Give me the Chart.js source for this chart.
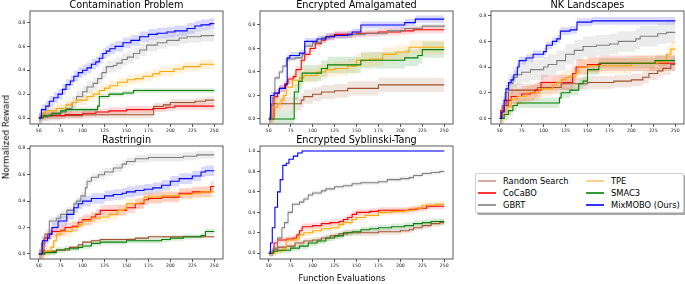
<!DOCTYPE html>
<html>
<head>
<meta charset="utf-8">
<script src="https://cdn.jsdelivr.net/npm/chart.js@4.4.1/dist/chart.umd.min.js"></script>
<style>
  body { margin: 0; background: #fff; }
  #fig { position: relative; width: 685px; height: 284px; overflow: hidden; font-family: "DejaVu Sans", sans-serif; color: #000; }
  #fig canvas { position: absolute; }
  .title { position: absolute; font-size: 9.7px; line-height: 9.7px; white-space: nowrap; transform: translateX(-50%); }
  .axlabel { position: absolute; font-size: 8.4px; line-height: 8.4px; white-space: nowrap; }
  #legend { position: absolute; left: 475px; top: 173px; width: 207px; height: 38px; border: 1px solid #d0d0d0; border-radius: 2px; background: #fff; box-shadow: 2px 2px 0 rgba(0,0,0,0.35); }
  .item { position: absolute; font-size: 8.3px; line-height: 8.3px; white-space: nowrap; padding-left: 25px; }
  .item svg { position: absolute; left: 0; top: 2px; }
</style>
</head>
<body>
<div id="fig">
  <div id="legend"></div>
</div>
<script>
const methods = ["Random Search", "CoCaBO", "GBRT", "TPE", "SMAC3", "MixMOBO (Ours)"];
const lineColors = ["#a0522d", "#ff0000", "#808080", "#ffa500", "#008000", "#0000ff"];
const legendColors = ["#c9978a", "#ff0000", "#808080", "#ffc66e", "#008000", "#0000ff"];
const titles = ["Contamination Problem", "Encrypted Amalgamated", "NK Landscapes", "Rastringin", "Encrypted Syblinski-Tang"];
const xTicks = [50, 75, 100, 125, 150, 175, 200, 225, 250];
const yTicks = [0, 0.2, 0.4, 0.6, 0.8];
const yTicksSyb = [0, 0.2, 0.4, 0.6, 0.8, 1.0];

// Contamination Problem: [evaluation, reward] change points
const contRandom = [[50,0],[52,0.01],[60,0.02],[100,0.028],[181,0.097],[192,0.11],[200,0.13],[228,0.14],[240,0.15],[250,0.15]];
const contCocabo = [[50,0],[53,0.02],[80,0.03],[100,0.04],[115,0.05],[130,0.06],[150,0.07],[180,0.08],[195,0.09],[205,0.1],[250,0.1]];
const contGbrt = [[50,0],[55,0.02],[62,0.03],[75,0.05],[81,0.08],[88,0.13],[93,0.18],[100,0.22],[105,0.26],[112,0.29],[117,0.33],[122,0.38],[127,0.43],[135,0.44],[139,0.46],[145,0.49],[151,0.51],[158,0.54],[165,0.57],[173,0.61],[185,0.63],[196,0.65],[210,0.67],[219,0.68],[235,0.69],[250,0.69]];
const contTpe = [[50,0],[54,0.04],[58,0.06],[70,0.08],[81,0.11],[88,0.13],[93,0.15],[105,0.18],[112,0.2],[119,0.23],[125,0.25],[131,0.27],[140,0.3],[151,0.32],[160,0.33],[169,0.35],[180,0.37],[188,0.39],[204,0.41],[215,0.43],[234,0.45],[250,0.45]];
const contSmac = [[50,0],[55,0.02],[65,0.04],[75,0.06],[81,0.07],[117,0.1],[119,0.18],[130,0.2],[146,0.21],[158,0.23],[250,0.23]];
const contMix = [[50,0],[53,0.07],[58,0.1],[62,0.14],[67,0.17],[72,0.2],[77,0.24],[81,0.28],[86,0.31],[90,0.35],[95,0.38],[100,0.4],[105,0.42],[110,0.45],[115,0.47],[119,0.5],[123,0.54],[127,0.56],[131,0.58],[137,0.6],[146,0.63],[155,0.65],[165,0.68],[175,0.7],[185,0.71],[196,0.72],[205,0.73],[219,0.75],[228,0.77],[235,0.78],[245,0.79],[250,0.79]];
const contBand = [0.03, 0.03, 0.05, 0.04, 0.02, 0.045];

// Encrypted Amalgamated
const amalRandom = [[50,0],[53,0.13],[87,0.16],[90,0.19],[100,0.21],[110,0.23],[125,0.24],[140,0.26],[175,0.29],[250,0.29]];
const amalCocabo = [[50,0],[56,0.19],[60,0.22],[62,0.26],[68,0.3],[72,0.34],[78,0.36],[81,0.42],[87,0.5],[91,0.55],[97,0.6],[103,0.64],[110,0.67],[115,0.7],[125,0.72],[150,0.73],[175,0.74],[200,0.75],[215,0.76],[250,0.76]];
const amalGbrt = [[50,0],[54,0.18],[57,0.35],[62,0.4],[66,0.45],[70,0.51],[80,0.52],[88,0.55],[91,0.62],[100,0.65],[110,0.69],[120,0.71],[145,0.72],[160,0.73],[185,0.75],[205,0.77],[225,0.79],[250,0.8]];
const amalTpe = [[50,0],[54,0.1],[60,0.13],[64,0.16],[67,0.2],[70,0.27],[77,0.33],[85,0.35],[90,0.37],[105,0.4],[115,0.42],[125,0.43],[140,0.45],[150,0.5],[165,0.51],[180,0.55],[195,0.57],[210,0.61],[250,0.61]];
const amalSmac = [[50,0],[79,0.23],[84,0.32],[88,0.39],[110,0.43],[117,0.46],[155,0.5],[205,0.52],[220,0.54],[225,0.59],[250,0.59]];
const amalMix = [[50,0],[52,0.2],[56,0.22],[62,0.26],[69,0.29],[71,0.52],[74,0.54],[85,0.56],[91,0.66],[105,0.68],[115,0.7],[125,0.71],[140,0.72],[145,0.74],[155,0.8],[205,0.82],[217,0.85],[250,0.85]];
const amalBand = [0.06, 0.03, 0.02, 0.06, 0.07, 0.03];

// NK Landscapes
const nkRandom = [[50,0],[53,0.1],[60,0.22],[93,0.24],[120,0.27],[150,0.28],[180,0.29],[200,0.3],[213,0.32],[220,0.35],[230,0.37],[236,0.39],[245,0.42],[250,0.42]];
const nkCocabo = [[50,0],[51,0.06],[55,0.1],[58,0.14],[63,0.17],[75,0.19],[85,0.2],[90,0.22],[97,0.28],[133,0.35],[137,0.4],[150,0.42],[165,0.43],[250,0.43]];
const nkGbrt = [[50,0],[53,0.1],[56,0.2],[60,0.27],[65,0.32],[70,0.34],[75,0.36],[85,0.38],[100,0.4],[105,0.42],[115,0.45],[125,0.5],[135,0.53],[145,0.56],[160,0.57],[175,0.58],[185,0.6],[205,0.62],[210,0.64],[230,0.66],[240,0.67],[250,0.67]];
const nkTpe = [[50,0],[52,0.03],[58,0.09],[63,0.15],[70,0.17],[80,0.2],[95,0.23],[110,0.26],[115,0.28],[120,0.3],[125,0.32],[130,0.33],[137,0.36],[140,0.4],[150,0.41],[200,0.43],[230,0.44],[240,0.5],[245,0.54],[250,0.54]];
const nkSmac = [[50,0],[55,0.03],[60,0.06],[65,0.1],[70,0.12],[118,0.16],[120,0.2],[130,0.22],[140,0.27],[145,0.29],[150,0.38],[163,0.43],[227,0.45],[250,0.45]];
const nkMix = [[50,0],[52,0.05],[55,0.14],[57,0.23],[60,0.28],[63,0.3],[66,0.34],[70,0.4],[72,0.45],[80,0.47],[88,0.5],[100,0.52],[103,0.57],[110,0.6],[115,0.62],[119,0.68],[130,0.69],[138,0.75],[155,0.76],[250,0.76]];
const nkBand = [0.05, 0.06, 0.08, 0.06, 0.04, 0.03];

// Rastringin
const rastRandom = [[50,0],[55,0.02],[70,0.03],[85,0.05],[95,0.07],[100,0.09],[110,0.1],[120,0.11],[160,0.12],[175,0.13],[250,0.13]];
const rastCocabo = [[50,0],[56,0.12],[60,0.15],[65,0.17],[75,0.18],[80,0.2],[88,0.21],[95,0.24],[100,0.26],[110,0.28],[115,0.3],[120,0.33],[140,0.33],[150,0.35],[160,0.38],[170,0.41],[175,0.42],[190,0.43],[210,0.46],[225,0.47],[246,0.51],[250,0.51]];
const rastGbrt = [[50,0],[53,0.08],[57,0.15],[62,0.25],[70,0.27],[75,0.3],[82,0.33],[90,0.38],[93,0.4],[98,0.44],[103,0.5],[105,0.55],[110,0.58],[118,0.6],[125,0.62],[135,0.65],[145,0.68],[150,0.7],[160,0.72],[175,0.73],[215,0.74],[230,0.75],[250,0.75]];
const rastTpe = [[50,0],[57,0.02],[64,0.05],[67,0.1],[70,0.15],[75,0.17],[88,0.2],[95,0.22],[100,0.25],[110,0.27],[120,0.28],[130,0.3],[140,0.33],[147,0.34],[150,0.38],[165,0.39],[170,0.43],[190,0.44],[210,0.45],[225,0.46],[235,0.47],[250,0.47]];
const rastSmac = [[50,0],[57,0.01],[70,0.03],[80,0.04],[95,0.05],[100,0.06],[110,0.08],[120,0.09],[150,0.1],[190,0.11],[200,0.12],[215,0.13],[235,0.14],[240,0.17],[250,0.17]];
const rastMix = [[50,0],[54,0.1],[60,0.12],[62,0.15],[65,0.2],[72,0.25],[82,0.3],[90,0.35],[95,0.38],[100,0.4],[110,0.42],[125,0.44],[135,0.45],[145,0.46],[150,0.47],[160,0.48],[170,0.49],[180,0.5],[190,0.52],[200,0.55],[210,0.57],[225,0.59],[235,0.62],[240,0.63],[250,0.63]];
const rastBand = [0.01, 0.04, 0.03, 0.04, 0.02, 0.04];

// Encrypted Syblinski-Tang
const sybRandom = [[50,0],[55,0.04],[60,0.06],[70,0.07],[80,0.1],[90,0.12],[100,0.13],[110,0.15],[120,0.17],[130,0.19],[140,0.2],[175,0.21],[200,0.22],[210,0.23],[215,0.25],[225,0.27],[235,0.29],[245,0.3],[250,0.3]];
const sybCocabo = [[50,0],[56,0.1],[60,0.13],[70,0.14],[78,0.15],[82,0.18],[85,0.22],[88,0.26],[100,0.27],[110,0.29],[120,0.3],[130,0.31],[135,0.33],[140,0.35],[145,0.38],[150,0.4],[165,0.41],[175,0.42],[210,0.43],[220,0.44],[230,0.46],[250,0.46]];
const sybGbrt = [[50,0],[55,0.05],[60,0.15],[65,0.25],[68,0.3],[72,0.4],[77,0.48],[85,0.5],[90,0.53],[95,0.57],[100,0.59],[110,0.61],[115,0.63],[125,0.65],[135,0.66],[145,0.68],[155,0.69],[175,0.7],[185,0.72],[200,0.73],[210,0.74],[215,0.76],[225,0.78],[235,0.79],[245,0.8],[250,0.8]];
const sybTpe = [[50,0],[57,0.02],[65,0.04],[70,0.13],[80,0.14],[85,0.18],[90,0.2],[100,0.22],[110,0.24],[120,0.25],[130,0.28],[135,0.3],[145,0.33],[150,0.35],[160,0.37],[175,0.4],[190,0.41],[205,0.42],[215,0.44],[225,0.47],[240,0.48],[250,0.48]];
const sybSmac = [[50,0],[55,0.02],[60,0.03],[75,0.05],[85,0.07],[95,0.1],[105,0.12],[115,0.15],[125,0.17],[135,0.2],[145,0.21],[155,0.23],[165,0.24],[175,0.25],[190,0.26],[205,0.27],[215,0.29],[225,0.3],[235,0.31],[250,0.31]];
const sybMix = [[50,0],[52,0.1],[54,0.25],[57,0.45],[60,0.6],[63,0.72],[66,0.86],[70,0.88],[73,0.92],[78,0.95],[83,0.98],[88,1.0],[250,1.0]];
const sybBand = [0.03, 0.03, 0.02, 0.03, 0.03, 0.005];

// plot boxes [left, top, width, height] and y limits
const panels = [
  { series: [contRandom, contCocabo, contGbrt, contTpe, contSmac, contMix], band: contBand, ticks: yTicks, ylim: [-0.05, 0.896], box: [30, 11, 193, 113] },
  { series: [amalRandom, amalCocabo, amalGbrt, amalTpe, amalSmac, amalMix], band: amalBand, ticks: yTicks, ylim: [-0.043, 0.919], box: [260, 11, 193, 113] },
  { series: [nkRandom, nkCocabo, nkGbrt, nkTpe, nkSmac, nkMix], band: nkBand, ticks: yTicks, ylim: [-0.044, 0.837], box: [491, 11, 193, 113] },
  { series: [rastRandom, rastCocabo, rastGbrt, rastTpe, rastSmac, rastMix], band: rastBand, ticks: yTicks, ylim: [-0.038, 0.817], box: [30, 146, 193, 113] },
  { series: [sybRandom, sybCocabo, sybGbrt, sybTpe, sybSmac, sybMix], band: sybBand, ticks: yTicksSyb, ylim: [-0.056, 1.049], box: [260, 146, 193, 113] },
];

const AXW = 30, PADT = 10, PADR = 4, AXH = 16;
const fig = document.getElementById("fig");

const alpha = (hex, a) => {
  const n = parseInt(hex.slice(1), 16);
  return `rgba(${n >> 16},${(n >> 8) & 255},${n & 255},${a})`;
};

// frame around the plot area
const boxPlugin = {
  id: "box",
  afterDraw(chart) {
    const { ctx, chartArea: a } = chart;
    ctx.save();
    ctx.strokeStyle = "#333";
    ctx.lineWidth = 0.8;
    ctx.strokeRect(a.left, a.top, a.right - a.left, a.bottom - a.top);
    ctx.restore();
  },
};

const tickFont = { family: "DejaVu Sans", size: 4.6 };

const makePanel = (p, k) => {
  const [bx, by, bw, bh] = p.box;
  const canvas = document.createElement("canvas");
  canvas.width = AXW + bw + PADR;
  canvas.height = PADT + bh + AXH;
  canvas.style.left = bx - AXW + "px";
  canvas.style.top = by - PADT + "px";
  fig.appendChild(canvas);

  const datasets = [];
  // shaded spread bands
  p.series.forEach((s, i) => {
    datasets.push({
      data: s.map(([x, y]) => ({ x, y: y + p.band[i] })),
      fill: "+1", backgroundColor: alpha(lineColors[i], 0.15),
      borderColor: "rgba(0,0,0,0)", borderWidth: 0, pointRadius: 0, stepped: true, order: 20,
    });
    datasets.push({
      data: s.map(([x, y]) => ({ x, y: y - p.band[i] })),
      fill: false, borderColor: "rgba(0,0,0,0)", borderWidth: 0, pointRadius: 0, stepped: true, order: 20,
    });
  });
  // mean lines, MixMOBO on top
  p.series.forEach((s, i) => {
    datasets.push({
      label: methods[i],
      data: s.map(([x, y]) => ({ x, y })),
      borderColor: lineColors[i], borderWidth: 1.1, pointRadius: 0, stepped: true, fill: false, order: 6 - i,
    });
  });

  const gridOpts = { display: true, drawOnChartArea: false, drawTicks: true, tickLength: 3, color: "#333", lineWidth: 0.8 };

  new Chart(canvas.getContext("2d"), {
    type: "line",
    data: { datasets },
    options: {
      responsive: false, animation: false, devicePixelRatio: 1, events: [],
      layout: { padding: { top: PADT, right: PADR, left: 0, bottom: 0 } },
      plugins: { legend: { display: false }, tooltip: { enabled: false }, title: { display: false } },
      scales: {
        x: {
          type: "linear", min: 40, max: 260,
          afterBuildTicks: (s) => { s.ticks = xTicks.map((v) => ({ value: v })); },
          afterFit: (s) => { s.height = AXH; },
          grid: gridOpts, border: { display: false },
          ticks: { font: tickFont, color: "#222", padding: 1, maxRotation: 0, autoSkip: false },
        },
        y: {
          type: "linear", min: p.ylim[0], max: p.ylim[1],
          afterBuildTicks: (s) => { s.ticks = p.ticks.map((v) => ({ value: v })); },
          afterFit: (s) => { s.width = AXW; },
          grid: gridOpts, border: { display: false },
          ticks: { font: tickFont, color: "#222", padding: 1.5, autoSkip: false, callback: (v) => v.toFixed(1) },
        },
      },
    },
    plugins: [boxPlugin],
  });

  const t = document.createElement("div");
  t.className = "title";
  t.textContent = titles[k];
  t.style.left = bx + bw / 2 + "px";
  t.style.top = by - 11.5 + "px";
  fig.appendChild(t);
};

panels.forEach(makePanel);

// axis labels
const xl = document.createElement("div");
xl.className = "axlabel";
xl.textContent = "Function Evaluations";
xl.style.left = "342px";
xl.style.top = "274px";
xl.style.transform = "translateX(-50%)";
fig.appendChild(xl);

const yl = document.createElement("div");
yl.className = "axlabel";
yl.textContent = "Normalized Reward";
yl.style.left = "5.5px";
yl.style.top = "137px";
yl.style.transform = "translate(-50%,-50%) rotate(-90deg)";
yl.style.fontSize = "8.7px";
fig.appendChild(yl);

// legend, two columns filled top to bottom
const legend = document.getElementById("legend");
methods.forEach((m, i) => {
  const col = Math.floor(i / 3), row = i % 3;
  const item = document.createElement("div");
  item.className = "item";
  item.style.left = 2 + col * 108 + "px";
  item.style.top = 2.5 + row * 12.2 + "px";
  item.innerHTML = `<svg width="18" height="4"><line x1="0" y1="2" x2="18" y2="2" stroke="${legendColors[i]}" stroke-width="1.6"/></svg>`;
  item.appendChild(document.createTextNode(m));
  legend.appendChild(item);
});
</script>
</body>
</html>
